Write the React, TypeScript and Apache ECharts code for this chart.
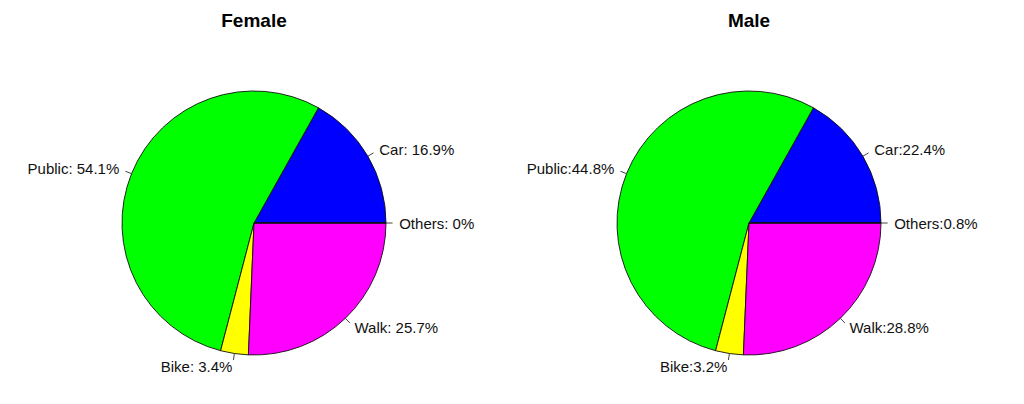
import React, { useEffect, useRef } from "react";
import * as echarts from "echarts";

// Categories (in drawing order, counter-clockwise from 3 o'clock as in R's pie())
const categories = ["Car", "Public", "Bike", "Walk", "Others"];
// Slice sizes as drawn in the reference (both pies are drawn with these)
const sliceValues = [16.9, 54.1, 3.4, 25.7, 0];
// Percentages printed in the labels
const femalePercent = [16.9, 54.1, 3.4, 25.7, 0];
const malePercent = [22.4, 44.8, 3.2, 28.8, 0.8];
const titles = ["Female", "Male"];
const colors = ["#0000FF", "#00FF00", "#FFFF00", "#FF00FF", "#00FFFF"];

const FONT = "'Liberation Sans', Arial, Helvetica, sans-serif";
const CENTERS_X = [254, 749];
const CENTER_Y = 223;
const RADIUS = 132;

function midAngle(i: number): number {
  const total = sliceValues.reduce((a, b) => a + b, 0);
  let cum = 0;
  for (let j = 0; j < i; j++) cum += sliceValues[j];
  return ((cum + sliceValues[i] / 2) / total) * Math.PI * 2;
}

export default function App() {
  const ref = useRef<HTMLDivElement>(null);

  useEffect(() => {
    if (!ref.current) return;
    const chart = echarts.init(ref.current, undefined, { renderer: "svg" });

    const labelLayout = (params: any) => {
      const si = params.seriesIndex;
      const i = params.dataIndex;
      const a = midAngle(i);
      const cx = CENTERS_X[si];
      const c = Math.cos(a);
      const s = Math.sin(a);
      return {
        x: cx + 1.1 * RADIUS * c,
        y: CENTER_Y - 1.1 * RADIUS * s,
        align: c < 0 ? "right" : "left",
        verticalAlign: "middle",
        labelLinePoints: [
          [cx + RADIUS * c, CENTER_Y - RADIUS * s],
          [cx + 1.05 * RADIUS * c, CENTER_Y - 1.05 * RADIUS * s],
        ],
      };
    };

    const makeSeries = (idx: number, pct: number[], sep: string) => ({
      type: "pie",
      center: [CENTERS_X[idx], CENTER_Y],
      radius: RADIUS,
      startAngle: 0,
      clockwise: false,
      avoidLabelOverlap: false,
      silent: true,
      emphasis: { disabled: true },
      itemStyle: { borderColor: "#111", borderWidth: 0.9 },
      label: {
        show: true,
        position: "outside",
        color: "#111",
        fontSize: 15,
        fontFamily: FONT,
        formatter: (p: any) => `${categories[p.dataIndex]}:${sep}${pct[p.dataIndex]}%`,
      },
      labelLine: {
        show: true,
        length: 7,
        length2: 0,
        smooth: false,
        lineStyle: { color: "#444", width: 1 },
      },
      labelLayout,
      data: categories.map((name, i) => ({
        name,
        value: sliceValues[i],
        itemStyle: { color: colors[i] },
      })),
    });

    chart.setOption({
      animation: false,
      backgroundColor: "#fff",
      graphic: titles.map((t, i) => ({
        type: "text",
        x: CENTERS_X[i],
        y: 20,
        style: {
          text: t,
          align: "center",
          verticalAlign: "middle",
          fill: "#000",
          font: `bold 19px ${FONT}`,
        },
      })),
      series: [makeSeries(0, femalePercent, " "), makeSeries(1, malePercent, "")],
    });

    return () => chart.dispose();
  }, []);

  return (
    <div
      ref={ref}
      style={{ position: "absolute", left: 0, top: 0, width: 1024, height: 404 }}
    />
  );
}
